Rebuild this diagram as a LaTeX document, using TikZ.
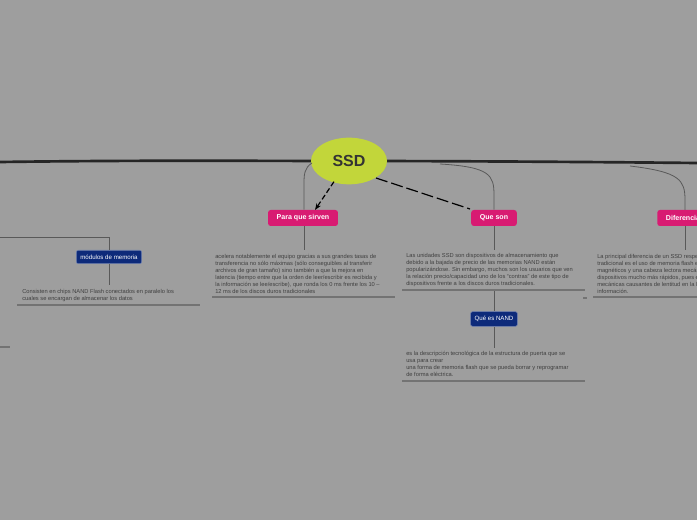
\documentclass[tikz,border=0pt]{standalone}
\usepackage{fontspec}
\setmainfont{Liberation Sans}
\usetikzlibrary{shapes.geometric,arrows.meta}
\definecolor{bg}{HTML}{9E9E9E}
\definecolor{pinkc}{HTML}{D81B72}
\definecolor{navy}{HTML}{0D2A7A}
\definecolor{lime}{HTML}{C2D63A}
\begin{document}
\begin{tikzpicture}[x=0.75pt,y=-0.75pt,
 pinkbox/.style={fill=pinkc,rounded corners=2pt,text=white,font=\bfseries\fontsize{5.3}{6}\selectfont,minimum height=12pt,inner xsep=6.5pt},
 navybox/.style={fill=navy,draw=navy!60!white,rounded corners=1.5pt,text=white,font=\fontsize{4.6}{5.5}\selectfont,minimum height=10pt,inner xsep=3pt},
 body/.style={anchor=north west,align=left,text=black!75,font=\fontsize{4.3}{5.25}\selectfont,inner sep=0pt},
 thin/.style={draw=black!65,line width=0.6pt},
 under/.style={draw=black!55,line width=0.8pt}]
\fill[bg] (0,0) rectangle (697,520);
\useasboundingbox (0,0) rectangle (697,520);
\draw[line width=2pt,black!85] (0,162) .. controls (150,160) and (250,161) .. (349,161) .. controls (450,161) and (600,162) .. (697,163);
\node[ellipse,fill=lime,minimum width=57pt,minimum height=35pt,font=\bfseries\fontsize{12}{14}\selectfont,text=black!80] (ssd) at (349,161) {SSD};
\node[pinkbox] (pq) at (303,218) {Para que sirven};
\node[pinkbox] (qs) at (494,218) {Que son};
\node[pinkbox,anchor=west] (dif) at (657,218) {Diferencias};
\node[navybox] (mod) at (109,257) {módulos de memoria};
\node[navybox] (nand) at (494,319) {Qué es NAND};
\draw[thin] (312,163) .. controls (304,168) and (304,175) .. (304,185) -- (pq.north -| 304,0);
\draw[thin] (440,164) .. controls (490,167) and (494,175) .. (494,195) -- (qs.north);
\draw[thin] (630,166) .. controls (680,172) and (685,180) .. (685,200) -- (685,210);
\coordinate (c1) at (304,250);
\coordinate (c2) at (494,250);
\coordinate (c3) at (685,250);
\coordinate (c2b) at (494,291);
\draw[thin] (pq.south -| 304,0) -- (c1);
\draw[thin] (qs.south) -- (c2);
\draw[thin] (685,226) -- (c3);
\draw[thin] (c2b) -- (nand.north);
\coordinate (c4) at (494,348);
\draw[thin] (nand.south) -- (c4);
\coordinate (l0) at (0,237);
\draw[thin] (l0) -- (109,237) -- (mod.north);
\coordinate (c5) at (109,285);
\draw[thin] (mod.south) -- (c5);
\draw[line width=0.9pt,-{Stealth[length=5pt]},dash pattern=on 4pt off 2pt] (ssd.south west) ++(12,4) -- (315,210);
\draw[line width=0.9pt,dash pattern=on 9pt off 3pt] (376,178) -- (470,209);
\node[body] (t1) at (215,254) {acelera notablemente el equipo gracias a sus grandes tasas de\\transferencia no sólo máximas (sólo conseguibles al transferir\\archivos de gran tamaño) sino también a que la mejora en\\latencia (tiempo entre que la orden de leer/escribir es recibida y\\la información se lee/escribe), que ronda los 0 ms frente los 10 –\\12 ms de los discos duros tradicionales};
\draw[under] (212,297) -- (395,297);
\node[body] (t2) at (406,253) {Las unidades SSD son dispositivos de almacenamiento que\\debido a la bajada de precio de las memorias NAND están\\popularizándose. Sin embargo, muchos son los usuarios que ven\\la relación precio/capacidad uno de los “contras” de este tipo de\\dispositivos frente a los discos duros tradicionales.};
\draw[under] (402,290) -- (585,290);
\node[body] (t3) at (406,351) {es la descripción tecnológica de la estructura de puerta que se\\usa para crear\\una forma de memoria flash que se pueda borrar y reprogramar\\de forma eléctrica.};
\draw[under] (402,381) -- (585,381);
\node[body] (t4) at (22,289) {Consisten en chips NAND Flash conectados en paralelo los\\cuales se encargan de almacenar los datos};
\draw[under] (17,305) -- (200,305);
\node[body] (t5) at (597,254) {La principal diferencia de un SSD respecto a un disco duro\\tradicional es el uso de memoria flash en lugar de discos\\magnéticos y una cabeza lectora mecánica, lo que hace a estos\\dispositivos mucho más rápidos, pues eliminan las partes\\mecánicas causantes de lentitud en la lectura de la\\información.};
\draw[under] (593,297) -- (697,297);
\draw[under] (583,298) -- (587,298);
\node[body] at (-8,304) {ar};
\draw[under] (0,347) -- (10,347);
\end{tikzpicture}
\end{document}
